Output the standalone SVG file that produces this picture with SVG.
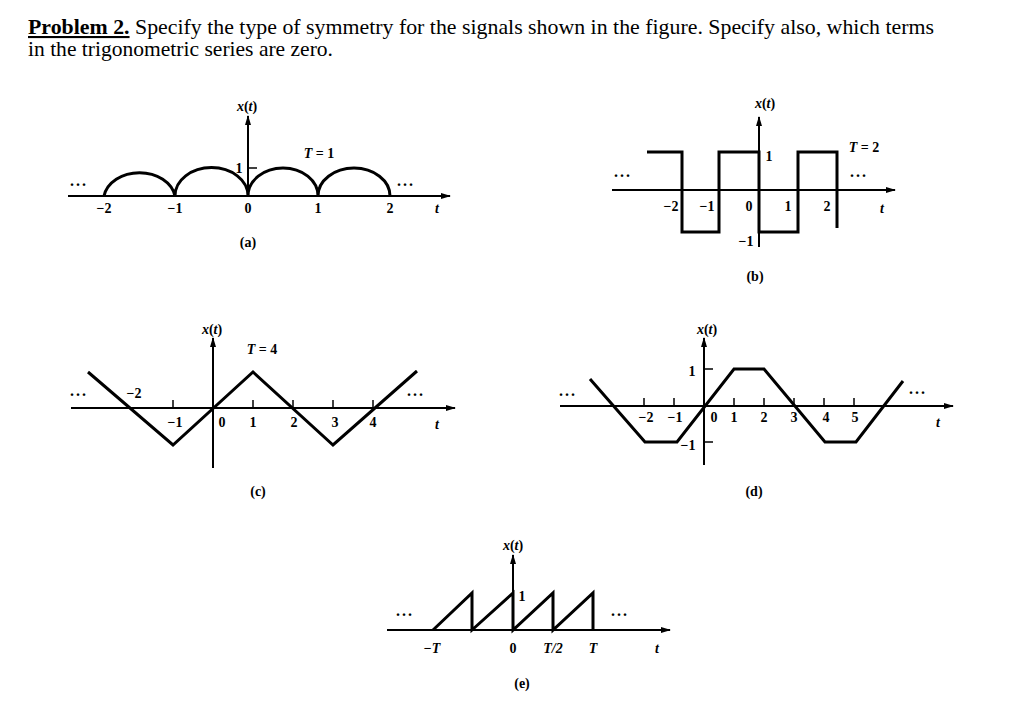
<svg xmlns="http://www.w3.org/2000/svg" width="1024" height="717" viewBox="0 0 1024 717">
<style>
.ax{stroke:#000;stroke-width:2;fill:none}
.sg{stroke:#000;stroke-width:3;fill:none;stroke-linejoin:miter}
.tk{stroke:#000;stroke-width:1.5}
.l{font-family:"Liberation Serif",serif;font-weight:bold;font-size:14px;fill:#000;text-anchor:middle}
.i{font-style:italic}
.d{font-family:"Liberation Serif",serif;font-weight:bold;font-size:16px;fill:#000;letter-spacing:2px}
.h{font-family:"Liberation Serif",serif;font-size:21px;fill:#000}
</style>
<defs>
<marker id="ar" viewBox="0 0 10 10" refX="9" refY="5" markerWidth="5" markerHeight="5" orient="auto" markerUnits="strokeWidth"><path d="M0,2 L10,5 L0,8 z" fill="#000"/></marker>
</defs>
<rect width="1024" height="717" fill="#fff"/>
<text class="h" x="28" y="34" textLength="906" lengthAdjust="spacingAndGlyphs"><tspan font-weight="bold" text-decoration="underline">Problem 2.</tspan> Specify the type of symmetry for the signals shown in the figure. Specify also, which terms</text>
<text class="h" x="28" y="56" textLength="305" lengthAdjust="spacingAndGlyphs">in the trigonometric series are zero.</text>

<g id="panel-a">
<line class="ax" x1="68" y1="196" x2="450" y2="196" marker-end="url(#ar)"/>
<line class="ax" x1="248" y1="196" x2="248" y2="116" marker-end="url(#ar)"/>
<line class="tk" x1="248" y1="168" x2="257" y2="168"/>
<path class="sg" d="M104,196 A36,28 0 0 1 175,196 A36,28 0 0 1 248,196 A35,28 0 0 1 318,196 A36,28 0 0 1 390,196"/>
<text class="l" x="247" y="111"><tspan class="i">x</tspan>(<tspan class="i">t</tspan>)</text>
<text class="l" x="319" y="158"><tspan class="i">T</tspan> = 1</text>
<text class="l" x="239" y="173">1</text>
<text class="d" x="70" y="186">...</text>
<text class="d" x="397" y="186">...</text>
<text class="l" x="104" y="213">−2</text>
<text class="l" x="175" y="213">−1</text>
<text class="l" x="248" y="213">0</text>
<text class="l" x="318" y="213">1</text>
<text class="l" x="390" y="213">2</text>
<text class="l i" x="437" y="213">t</text>
<text class="l" x="248" y="247">(a)</text>
</g>

<g id="panel-b">
<line class="ax" x1="612" y1="190" x2="895" y2="190" marker-end="url(#ar)"/>
<line class="ax" x1="759" y1="247" x2="759" y2="117" marker-end="url(#ar)"/>
<path class="sg" d="M647,152 H682 V232 H719 V152 H759 V232 H798 V152 H837 V228"/>
<text class="l" x="765" y="108"><tspan class="i">x</tspan>(<tspan class="i">t</tspan>)</text>
<text class="l" x="864" y="152"><tspan class="i">T</tspan> = 2</text>
<text class="l" x="769" y="161">1</text>
<text class="l" x="746" y="246">−1</text>
<text class="d" x="614" y="177">...</text>
<text class="d" x="850" y="177">...</text>
<text class="l" x="671" y="211">−2</text>
<text class="l" x="707" y="211">−1</text>
<text class="l" x="749" y="211">0</text>
<text class="l" x="788" y="211">1</text>
<text class="l" x="827" y="211">2</text>
<text class="l i" x="882" y="213">t</text>
<text class="l" x="755" y="281">(b)</text>
</g>

<g id="panel-c">
<line class="ax" x1="71" y1="408" x2="455" y2="408" marker-end="url(#ar)"/>
<line class="ax" x1="213" y1="468" x2="213" y2="338" marker-end="url(#ar)"/>
<g class="tk"><line x1="173" y1="400" x2="173" y2="408"/><line x1="253" y1="400" x2="253" y2="408"/><line x1="293" y1="400" x2="293" y2="408"/><line x1="333" y1="400" x2="333" y2="408"/><line x1="373" y1="400" x2="373" y2="408"/></g>
<path class="sg" d="M88,372 L173,445 L253,372 L333,445 L417,371"/>
<text class="l" x="212" y="334"><tspan class="i">x</tspan>(<tspan class="i">t</tspan>)</text>
<text class="l" x="262" y="354"><tspan class="i">T</tspan> = 4</text>
<text class="l" x="134" y="398">−2</text>
<text class="d" x="70" y="396">...</text>
<text class="d" x="407" y="396">...</text>
<text class="l" x="175" y="427">−1</text>
<text class="l" x="222" y="427">0</text>
<text class="l" x="253" y="427">1</text>
<text class="l" x="294" y="427">2</text>
<text class="l" x="335" y="427">3</text>
<text class="l" x="373" y="427">4</text>
<text class="l i" x="437" y="429">t</text>
<text class="l" x="258" y="496">(c)</text>
</g>

<g id="panel-d">
<line class="ax" x1="560" y1="406" x2="953" y2="406" marker-end="url(#ar)"/>
<line class="ax" x1="704" y1="465" x2="704" y2="338" marker-end="url(#ar)"/>
<g class="tk"><line x1="704" y1="369" x2="713" y2="369"/><line x1="704" y1="442" x2="713" y2="442"/><line x1="644" y1="398" x2="644" y2="406"/><line x1="674" y1="398" x2="674" y2="406"/><line x1="734" y1="398" x2="734" y2="406"/><line x1="764" y1="398" x2="764" y2="406"/><line x1="794" y1="398" x2="794" y2="406"/><line x1="824" y1="398" x2="824" y2="406"/><line x1="854" y1="398" x2="854" y2="406"/></g>
<path class="sg" d="M590,379 L645,442 L677,442 L734,369 L764,369 L825,442 L856,442 L903,381"/>
<text class="l" x="707" y="334"><tspan class="i">x</tspan>(<tspan class="i">t</tspan>)</text>
<text class="l" x="692" y="376">1</text>
<text class="l" x="688" y="450">−1</text>
<text class="d" x="559" y="396">...</text>
<text class="d" x="909" y="394">...</text>
<text class="l" x="646" y="422">−2</text>
<text class="l" x="675" y="422">−1</text>
<text class="l" x="714" y="422">0</text>
<text class="l" x="734" y="422">1</text>
<text class="l" x="764" y="422">2</text>
<text class="l" x="794" y="422">3</text>
<text class="l" x="826" y="422">4</text>
<text class="l" x="855" y="422">5</text>
<text class="l i" x="938" y="427">t</text>
<text class="l" x="754" y="496">(d)</text>
</g>

<g id="panel-e">
<line class="ax" x1="387" y1="630" x2="670" y2="630" marker-end="url(#ar)"/>
<line class="ax" x1="513" y1="630" x2="513" y2="555" marker-end="url(#ar)"/>
<path class="sg" d="M433,630 L472,593 V630 L513,593 V630 L553,593 V630 L593,593 V630"/>
<text class="l" x="513" y="550"><tspan class="i">x</tspan>(<tspan class="i">t</tspan>)</text>
<text class="l" x="522" y="601">1</text>
<text class="d" x="396" y="616">...</text>
<text class="d" x="611" y="616">...</text>
<text class="l" x="432" y="653">−<tspan class="i">T</tspan></text>
<text class="l" x="513" y="653">0</text>
<text class="l i" x="553" y="653">T/2</text>
<text class="l i" x="593" y="653">T</text>
<text class="l i" x="657" y="653">t</text>
<text class="l" x="522" y="688">(e)</text>
</g>
</svg>
